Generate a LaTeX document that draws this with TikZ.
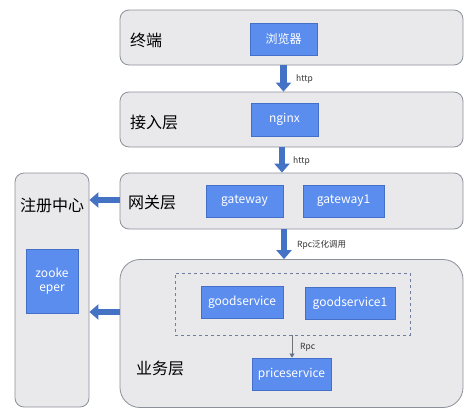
\documentclass[tikz,border=0pt]{standalone}
\usepackage{fontspec}
\setmainfont{Noto Sans CJK SC}
\usetikzlibrary{arrows.meta,calc}
\definecolor{panelfill}{HTML}{E9E9EC}
\definecolor{paneldraw}{HTML}{8C9199}
\definecolor{boxfill}{HTML}{5B8DEF}
\definecolor{boxdraw}{HTML}{4470C8}
\definecolor{arrowblue}{HTML}{4472C4}
\definecolor{dashc}{HTML}{6E7E9C}
\begin{document}
\begin{tikzpicture}[x=1pt,y=-1pt,
  panel/.style={draw=paneldraw,fill=panelfill,line width=0.8pt,rounded corners=9pt,inner sep=0},
  bluebox/.style={draw=boxdraw,fill=boxfill,line width=0.8pt,text=white,font=\fontsize{12}{14}\selectfont,inner sep=0,align=center},
  layerlabel/.style={font=\fontsize{16}{18}\selectfont,anchor=west,inner sep=0},
  smalllabel/.style={font=\fontsize{8.5}{10}\selectfont,anchor=west,inner sep=0,text=black!80},
  bigarrow/.style={draw=arrowblue,line width=6.5pt,-{Triangle[width=15pt,length=9pt]}},
]
\useasboundingbox (0,0) rectangle (474,418);
% panels
\node[panel,minimum width=343pt,minimum height=55pt] (term) at (291.5,37.5) {};
\node[panel,minimum width=343pt,minimum height=55pt] (access) at (291.5,119.5) {};
\node[panel,minimum width=343pt,minimum height=56pt] (gwl) at (291.5,201) {};
\node[panel,rounded corners=20pt,minimum width=343pt,minimum height=148pt] (biz) at (291.5,333.5) {};
\node[panel,minimum width=74pt,minimum height=234pt] (reg) at (52,290) {};
% labels
\node[layerlabel] (l1) at (130,40) {终端};
\node[layerlabel] (l2) at (130,122) {接入层};
\node[layerlabel] (l3) at (128,203) {网关层};
\node[layerlabel] (l4) at (136,368) {业务层};
\node[font=\fontsize{16}{18}\selectfont,inner sep=0] (l5) at (52,205) {注册中心};
% dashed group
\node[draw=dashc,dashed,line width=0.6pt,minimum width=235pt,minimum height=62pt,inner sep=0] (grp) at (292.5,304) {};
% boxes
\node[bluebox,minimum width=67pt,minimum height=32pt] (browser) at (283.5,39) {浏览器};
\node[bluebox,minimum width=67pt,minimum height=33pt] (nginx) at (284.5,119.5) {nginx};
\node[bluebox,minimum width=77pt,minimum height=32pt] (gw) at (244.5,201) {gateway};
\node[bluebox,minimum width=81pt,minimum height=32pt] (gw1) at (343.5,201) {gateway1};
\node[bluebox,minimum width=82pt,minimum height=32pt] (gs) at (242,302) {goodservice};
\node[bluebox,minimum width=90pt,minimum height=32pt] (gs1) at (350,303) {goodservice1};
\node[bluebox,minimum width=79pt,minimum height=32pt] (price) at (291.5,374) {priceservice};
\node[bluebox,minimum width=52pt,minimum height=64pt] (zk) at (52,281) {zooke\\eper};
% arrows
\draw[bigarrow] (term.south -| browser) -- (access.north -| browser);
\node[smalllabel] (h1) at (296,79) {http};
\draw[bigarrow] (access.south -| 282,0) -- (gwl.north -| 282,0);
\node[smalllabel] (h2) at (293,161) {http};
\draw[bigarrow] (gwl.south -| 284,0) -- (biz.north -| 284,0);
\node[smalllabel] (h3) at (297,245) {Rpc泛化调用};
\draw[bigarrow] (gwl.west |- 0,200) -- (reg.east |- 0,200);
\draw[bigarrow] (biz.west |- 0,312) -- (reg.east |- 0,312);
\draw[draw=paneldraw!80!black,line width=0.7pt,-{Triangle[width=5pt,length=4pt,fill=arrowblue]}] (grp.south -| 292,0) -- (price.north -| 292,0);
\node[smalllabel] (r1) at (300,347) {Rpc};
\end{tikzpicture}
\end{document}
